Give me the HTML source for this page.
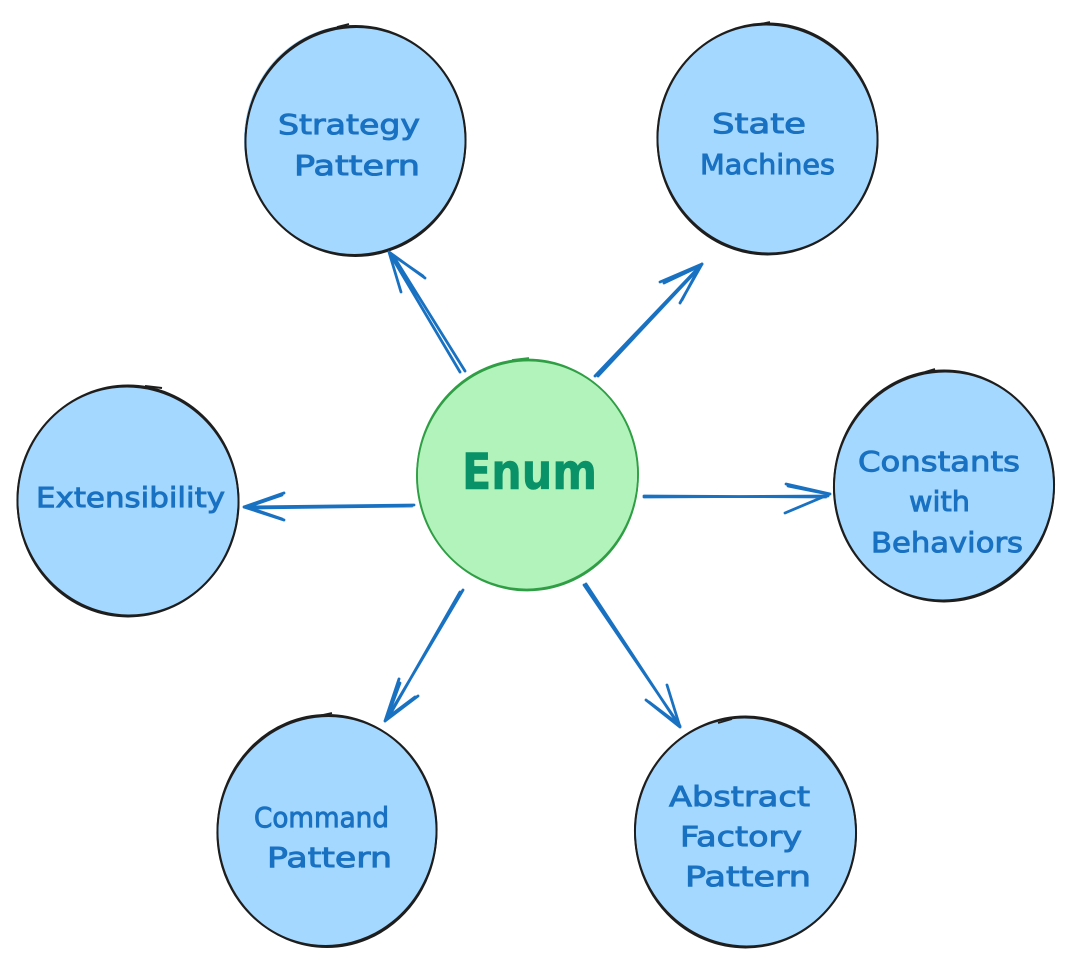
<!DOCTYPE html>
<html>
<head>
<meta charset="utf-8">
<style>
html,body{margin:0;padding:0;background:#fff;width:1079px;height:975px;overflow:hidden}
svg{display:block}
text{font-family:"DejaVu Sans","Liberation Sans",sans-serif;fill:#1971c2;stroke:#1971c2;stroke-width:.9px;font-size:28px}
</style>
</head>
<body>
<svg width="1079" height="975" viewBox="0 0 1079 975">
<g fill="#a5d8ff">
<ellipse cx="354.500" cy="140" rx="110.500" ry="115"/>
<ellipse cx="767.500" cy="138.500" rx="110" ry="115.500"/>
<ellipse cx="944.500" cy="486" rx="110" ry="115.500"/>
<ellipse cx="128.500" cy="501.500" rx="110.500" ry="115"/>
<ellipse cx="327" cy="831.500" rx="109.500" ry="115.500"/>
<ellipse cx="746" cy="831.500" rx="110.500" ry="115"/>
</g>
<g fill="none" stroke="#1e1e1e" stroke-width="1.9">
<ellipse cx="355.500" cy="141" rx="110" ry="115"/>
<ellipse cx="355.500" cy="141" rx="110" ry="114" transform="rotate(8 355.500 141)"/>
<path d="M337 27L349 24"/>
<ellipse cx="767.500" cy="139" rx="110" ry="115.500"/>
<ellipse cx="767.500" cy="139" rx="110" ry="114.500" transform="rotate(-8 767.500 139)"/>
<path d="M756 25L770 22"/>
<ellipse cx="944" cy="486" rx="110" ry="115.500"/>
<ellipse cx="944" cy="486" rx="110" ry="114.500" transform="rotate(8 944 486)"/>
<path d="M925 372L935 369"/>
<ellipse cx="128" cy="501" rx="110.500" ry="115.500"/>
<ellipse cx="128" cy="501" rx="110.500" ry="114.500" transform="rotate(-8 128 501)"/>
<path d="M145 386L162 388"/>
<ellipse cx="327" cy="831" rx="109.500" ry="116"/>
<ellipse cx="327" cy="831" rx="109.500" ry="115" transform="rotate(8 327 831)"/>
<path d="M318 716L332 713"/>
<ellipse cx="745.500" cy="832" rx="110.500" ry="115.500"/>
<ellipse cx="745.500" cy="832" rx="110.500" ry="114.500" transform="rotate(-8 745.500 832)"/>
<path d="M718 723L732 719"/>
</g>
<ellipse cx="527.500" cy="475" rx="110.500" ry="115.500" fill="#b2f2bb"/>
<g fill="none" stroke="#2f9e44" stroke-width="1.7">
<ellipse cx="527.500" cy="475" rx="110.500" ry="115.500"/>
<ellipse cx="527.500" cy="475" rx="110.500" ry="114.500" transform="rotate(8 527.500 475)"/>
<path d="M512 360L529 358"/>
</g>
<g fill="none" stroke="#1971c2" stroke-width="2.8" stroke-linecap="round" stroke-linejoin="round">
<path d="M465 371L394 257M460 372L390 254"/>
<path d="M389 252L425 278M389 252L401 292M391 254L423 276"/>
<path d="M595 376L702 264M598 376L700 267"/>
<path d="M702 264L660 282M702 264L680 303M700 266L664 283M700 266L682 300"/>
<path d="M644 497L828 496M644 496L826 497"/>
<path d="M830 494L786 484M830 494L785 513M828 494L788 486"/>
<path d="M414 505L246 507M412 506L248 508"/>
<path d="M244 507L284 493M244 507L284 520M247 507L282 495M247 507L282 519"/>
<path d="M463 590L386 720M460 592L388 718"/>
<path d="M385 721L399 679M385 721L418 696M387 718L400 683M387 718L415 697"/>
<path d="M584 585L680 726M586 584L678 724"/>
<path d="M680 727L646 700M680 727L667 685M678 724L649 702"/>
</g>
<text x="278" y="134" textLength="142" lengthAdjust="spacingAndGlyphs">Strategy</text>
<text x="294" y="175" textLength="126" lengthAdjust="spacingAndGlyphs">Pattern</text>
<text x="712" y="133" textLength="94" lengthAdjust="spacingAndGlyphs">State</text>
<text x="700" y="174" textLength="135" lengthAdjust="spacingAndGlyphs">Machines</text>
<text x="858" y="471" textLength="162" lengthAdjust="spacingAndGlyphs">Constants</text>
<text x="909" y="511" textLength="61" lengthAdjust="spacingAndGlyphs">with</text>
<text x="871" y="552" textLength="152" lengthAdjust="spacingAndGlyphs">Behaviors</text>
<text x="36" y="507" textLength="189" lengthAdjust="spacingAndGlyphs">Extensibility</text>
<text x="254" y="827" textLength="135" lengthAdjust="spacingAndGlyphs">Command</text>
<text x="267" y="867" textLength="125" lengthAdjust="spacingAndGlyphs">Pattern</text>
<text x="669" y="806" textLength="141" lengthAdjust="spacingAndGlyphs">Abstract</text>
<text x="680" y="846" textLength="122" lengthAdjust="spacingAndGlyphs">Factory</text>
<text x="685" y="886" textLength="126" lengthAdjust="spacingAndGlyphs">Pattern</text>
<text x="462" y="489" textLength="135" lengthAdjust="spacingAndGlyphs" style="fill:#099268;stroke:#099268;stroke-width:.6px;font-size:50px;font-weight:bold">Enum</text>
</svg>
</body>
</html>
